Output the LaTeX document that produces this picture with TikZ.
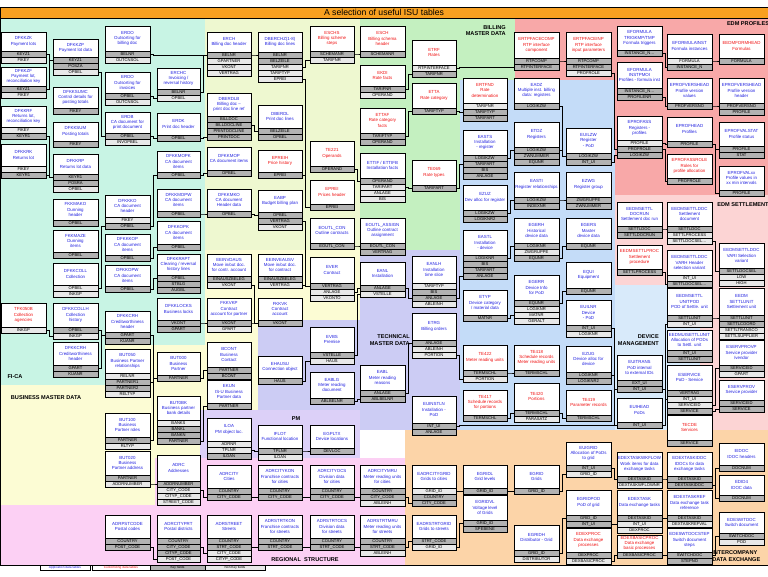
\documentclass[tikz,border=0pt]{standalone}
\usepackage{fontspec}
\setmainfont{Liberation Sans}
\definecolor{cteal}{HTML}{C8F4E4}
\definecolor{cpyg}{HTML}{EEF8D0}
\definecolor{cyel}{HTML}{FCFCD4}
\definecolor{cgreen}{HTML}{C4F0C0}
\definecolor{cred}{HTML}{F8A8A8}
\definecolor{cpink}{HTML}{FCD4D4}
\definecolor{cblue}{HTML}{C4DCF8}
\definecolor{clblue}{HTML}{D8EAFA}
\definecolor{clav}{HTML}{CCCCF4}
\definecolor{cpm}{HTML}{DCD0F8}
\definecolor{cmag}{HTML}{FCD0F4}
\definecolor{corange}{HTML}{FCD4A8}
\definecolor{cbar}{HTML}{F8A020}
\definecolor{tb}{HTML}{2020E0}
\definecolor{tr}{HTML}{F01010}
\tikzset{
 tbox/.style={draw=black,line width=0.6pt,fill=white,align=center,inner sep=0pt,font=\fontsize{3.3}{3.9}\selectfont},
 fldd/.style={draw=black,line width=0.4pt,fill=gray!60,inner sep=0pt,minimum height=4.5pt,font=\fontsize{3.1}{3.3}\selectfont},
 fldl/.style={draw=black,line width=0.4pt,fill=gray!18,inner sep=0pt,minimum height=4.5pt,font=\fontsize{3.1}{3.3}\selectfont},
 conn/.style={draw=black,line width=0.5pt},
 sect/.style={font=\fontsize{4.2}{4.8}\selectfont\bfseries,align=right,inner sep=0pt},
 legend/.style={draw=black,line width=0.4pt,inner sep=0pt,minimum height=4pt,font=\fontsize{2.4}{2.6}\selectfont},
}
\newcommand\Tab[8]{%
 \node[tbox,text=#6,minimum width=#4*0.75pt,minimum height=#5*0.75pt] (#1) at (#2+#4/2,#3+#5/2) {#7};
 \foreach \k/\t [count=\i] in {#8} {\node[fld\k,minimum width=#4*0.75pt] (#1-\i) at (#2+#4/2,#3+#5+\i*6-3) {\t};}
}
\newcommand\cn[2]{\draw[conn] (#1.east) -- ++(3.5,0) |- (#2.west);}
\begin{document}
\begin{tikzpicture}[x=0.75pt,y=-0.75pt]
\useasboundingbox (0,0) rectangle (768,576);
% backgrounds
\fill[white] (0,0) rectangle (768,576);
\fill[cyel] (0,230) rectangle (360,505);
\fill[cteal] (0,18) rectangle (205,345);
\fill[cteal] (0,345) rectangle (105,385);
\fill[cpyg] (205,18) rectangle (360,250);
\fill[cgreen] (360,18) rectangle (515,240);
\fill[cgreen] (360,240) rectangle (460,250);
\fill[clav] (360,250) rectangle (460,430);
\fill[clav] (258,320) rectangle (360,410);
\fill[cblue] (460,80) rectangle (615,430);
\fill[clblue] (615,285) rectangle (700,430);
\fill[cred] (515,18) rectangle (615,80);
\fill[cred] (615,18) rectangle (768,195);
\fill[cpink] (615,195) rectangle (768,285);
\fill[cpink] (700,285) rectangle (768,435);
\fill[cpm] (200,410) rectangle (360,458);
\fill[cmag] (155,458) rectangle (405,505);
\fill[cmag] (0,505) rectangle (405,565);
\fill[corange] (405,430) rectangle (768,565);
\draw[black,line width=0.6pt] (0,18) rectangle (768,565);
% title bar
\node[draw=black,fill=cbar,minimum width=768*0.75pt,minimum height=11*0.75pt,inner sep=0pt,font=\fontsize{6.5}{7}\selectfont] (title) at (384,12.5) {A selection of useful ISU tables};
% column A
\Tab{zk}{1}{32}{45}{19}{tb}{DFKKZK\\Payment lots}{d/KEYZ1,l/FIKEY}
\Tab{zf}{1}{67}{45}{19}{tb}{DFKKZF\\Payment lot,\\reconciliation key}{d/KEYZ1,l/FIKEY}
\Tab{rf}{1}{106}{45}{21}{tb}{DFKKRF\\Returns lot,\\reconciliation key}{l/FIKEY,d/KEYR1}
\Tab{rk}{1}{144}{45}{22}{tb}{DFKKRK\\Returns lot}{l/FIKEY,d/KEYR1}
\Tab{tfk}{1}{303}{45}{24}{tr}{TFK050B\\Collection\\agencies}{l/INKGP}
% column B
\Tab{zp}{53}{39}{45}{18}{tb}{DFKKZP\\Payment lot data}{d/KEYZ1,d/POSZA,l/OPBEL}
\Tab{sumc}{53}{87}{45}{21}{tb}{DFKKSUMC\\Control details for\\posting totals}{d/FIKEY}
\Tab{sum}{53}{122}{45}{19}{tb}{DFKKSUM\\Posting totals}{d/FIKEY}
\Tab{rp}{53}{154}{45}{20}{tb}{DFKKRP\\Returns lot data}{d/KEYR1,d/POSRA,l/OPBEL}
\Tab{mako}{53}{199}{45}{21}{tb}{FKKMAKO\\Dunning\\header}{d/OPBEL}
\Tab{maze}{53}{230}{45}{22}{tb}{FKKMAZE\\Dunning\\items}{d/OPBEL}
\Tab{coll}{53}{263}{45}{22}{tb}{DFKKCOLL\\Collection}{l/OPBEL,l/INKGP}
\Tab{collh}{53}{303}{45}{24}{tb}{DFKKCOLLH\\Collection\\history}{d/OPBEL,l/INKGP}
\Tab{crb}{53}{342}{45}{23}{tb}{DFKKCRH\\Creditworthiness\\header}{d/GPART,d/KUANR}
% column C
\Tab{erdo}{105}{26}{45}{25}{tb}{ERDO\\Outsorting for\\billing doc}{d/BELNR,l/OUTCNSOL}
\Tab{erdoi}{105}{72}{45}{21}{tb}{ERDO\\Outsorting for\\invoices}{d/OPBEL,l/OUTCNSOL}
\Tab{erdb}{105}{112}{45}{21}{tb}{ERDB\\CA document for\\print document}{d/OPBEL,l/INVOPBEL}
\Tab{kko}{105}{195}{45}{22}{tb}{DFKKKO\\CA document\\header}{l/FIKEY,d/OPBEL}
\Tab{kkop}{105}{234}{45}{21}{tb}{DFKKKOP\\CA document\\items}{d/OPBEL}
\Tab{opw}{105}{265}{45}{21}{tb}{DFKKOPW\\CA document\\items}{d/OPBEL}
\Tab{crh}{105}{311}{45}{21}{tb}{DFKKCRH\\Creditworthiness\\header}{d/GPART,d/KUANR}
\Tab{b050}{105}{349}{45}{24}{tb}{BUT050\\Business Partner\\relationships}{l/RELNR,d/PARTNER1,d/PARTNER2,l/RELTYP}
\Tab{b100}{105}{413}{45}{24}{tb}{BUT100\\Business\\Partner roles}{d/PARTNER,l/RLTYP}
\Tab{b020}{105}{451}{45}{24}{tb}{BUT020\\Business\\Partner address}{d/PARTNER,l/ADDRNUMBER}
\Tab{apc}{105}{515}{45}{23}{tb}{ADRPSTCODE\\Postal codes}{d/COUNTRY,d/POST\_CODE}
% column D
\Tab{erchc}{157}{68}{43}{21}{tb}{ERCHC\\Invoicing /\\reversal history}{d/BELNR,l/OPBEL}
\Tab{erdk}{157}{113}{43}{22}{tb}{ERDK\\Print doc header}{d/OPBEL}
\Tab{mopk}{157}{151}{43}{21}{tb}{DFKKMOPK\\CA document\\items}{d/OPBEL}
\Tab{mopw}{157}{189}{43}{22}{tb}{DFKKMOPW\\CA document\\items}{d/OPBEL}
\Tab{opk}{157}{221}{43}{23}{tb}{DFKKOPK\\CA document\\items}{d/OPBEL}
\Tab{rapt}{157}{254}{43}{21}{tb}{DFKKRAPT\\Clearing / reversal\\history lines}{d/OPBEL,d/STBLG,d/AUGBL}
\Tab{locks}{157}{298}{43}{22}{tb}{DFKKLOCKS\\Business locks}{d/VKONT,d/GPART}
\Tab{b000}{157}{352}{43}{23}{tb}{BUT000\\Business\\Partner}{d/PARTNER}
\Tab{b0bk}{157}{396}{43}{24}{tb}{BUT0BK\\Business partner\\bank details}{l/BANKS,d/BANKL,d/BANKN,d/PARTNER}
\Tab{adrc}{157}{455}{43}{26}{tb}{ADRC\\Addresses}{d/ADDRNUMBER,l/CITY\_CODE,l/CITYP\_CODE,l/STREET\_CODE}
\Tab{acprt}{157}{515}{43}{23}{tb}{ADRCITYPRT\\Postal districts}{d/COUNTRY,d/CITY\_CODE,d/CITYP\_CODE,l/POST\_CODE}
% column E
\Tab{erch}{207}{32}{44}{20}{tb}{ERCH\\Billing doc header}{d/BELNR,l/GPARTNER,l/VKONT,l/VERTRAG}
\Tab{dbdlb}{207}{93}{44}{23}{tb}{DBERDLB\\Billing doc --\\print doc line ref}{d/BILLDOC,d/BILLDOCLINE,d/PRINTDOCLINE,d/PRINTDOC}
\Tab{kkmop}{207}{147}{44}{23}{tb}{DFKKMOP\\CA document items}{d/OPBEL}
\Tab{kkmko}{207}{189}{44}{22}{tb}{DFKKMKO\\CA document\\Header data}{d/OPBEL}
\Tab{eaus}{207}{254}{44}{22}{tb}{EEINVDAUS\\Move in/out doc.\\for contr. account}{d/EINAUSZBELEG,l/VKONT}
\Tab{vkp}{207}{298}{44}{22}{tb}{FKKVKP\\Contract\\account for partner}{d/VKONT,l/GPART}
\Tab{bcont}{207}{342}{44}{25}{tb}{BCONT\\Business\\Contact}{d/PARTNER,d/BCONT}
\Tab{ekun}{207}{380}{44}{23}{tb}{EKUN\\IS-U Business\\Partner data}{d/PARTNER}
\Tab{iloa}{207}{418}{44}{23}{tb}{ILOA\\PM object loc.}{l/ADRNR,l/TPLNR,d/ILOAN}
\Tab{acity}{207}{465}{44}{23}{tb}{ADRCITY\\Cities}{d/COUNTRY,d/CITY\_CODE}
\Tab{astr}{207}{515}{44}{23}{tb}{ADRSTREET\\Streets}{d/COUNTRY,d/STRT\_CODE,l/CITY\_CODE,l/CITYP\_CODE}
% column F
\Tab{erchz}{258}{32}{44}{20}{tb}{DBERCHZ(1-8)\\Billing doc lines}{d/BELNR,d/BELZEILE,l/TARIFNR,l/TARIFTYP,l/EPREI}
\Tab{dbdl}{258}{105}{44}{23}{tb}{DBERDL\\Print doc lines}{d/BELZEILE,d/OPBEL}
\Tab{epreih}{258}{150}{44}{22}{tr}{EPREIH\\Price history}{d/EPREI}
\Tab{eabp}{258}{190}{44}{22}{tb}{EABP\\Budget billing plan}{d/OPBEL,d/VERTRAG,l/VKONT}
\Tab{eausv}{258}{254}{44}{22}{tb}{EEINVEAUSV\\Move in/out doc.\\for contract}{d/EINAUSZBELEG,l/VERTRAG}
\Tab{vk}{258}{298}{44}{22}{tb}{FKKVK\\Contract\\account}{d/VKONT}
\Tab{ehau}{258}{356}{44}{22}{tb}{EHAUSU\\Connection object}{d/HAUS}
\Tab{iflot}{258}{425}{44}{23}{tb}{IFLOT\\Functional location}{d/TPLNR,l/ILOAN}
\Tab{acik}{258}{465}{44}{23}{tb}{ADRCITYKON\\Franchise contracts\\for cities}{d/COUNTRY,d/CITY\_CODE}
\Tab{astk}{258}{515}{44}{23}{tb}{ADRSTRTKON\\Franchise contracts\\for streets}{d/COUNTRY,d/STRT\_CODE}
% column G
\Tab{eschs}{310}{26}{44}{25}{tr}{ESCHS\\Billing scheme\\steps}{d/SCHEMANR,l/TARIFNR}
\Tab{te221}{310}{141}{44}{25}{tr}{TE221\\Operands}{d/OPERAND}
\Tab{eprei}{310}{180}{44}{24}{tr}{EPREI\\Prices header}{d/EPREI}
\Tab{eocon}{310}{218}{44}{25}{tb}{EOUTL\_CON\\Outline contracts}{d/EOUTL\_CON}
\Tab{ever}{310}{257}{44}{26}{tb}{EVER\\Contract}{d/VERTRAG,l/ANLAGE,l/VKONTO}
\Tab{evbs}{310}{327}{44}{25}{tb}{EVBS\\Premise}{d/VSTELLE,l/HAUS}
\Tab{eablg}{310}{372}{44}{26}{tb}{EABLG\\Meter reading\\document}{d/ABLBELNR}
\Tab{egpl}{310}{425}{44}{23}{tb}{EGPLTX\\Device locations}{d/DEVLOC}
\Tab{acio}{310}{465}{44}{23}{tb}{ADRCITYOCS\\Division data\\for cities}{d/COUNTRY,d/CITY\_CODE}
\Tab{asto}{310}{515}{44}{23}{tb}{ADRSTRTOCS\\Division data\\for streets}{d/COUNTRY,d/STRT\_CODE}
% column H
\Tab{esch}{360}{26}{45}{25}{tr}{ESCH\\Billing schema\\header}{d/SCHEMANR}
\Tab{ekdi}{360}{65}{45}{21}{tr}{EKDI\\Rate facts}{d/TARIFNR,l/OPERAND}
\Tab{ettaf}{360}{108}{45}{25}{tr}{ETTAF\\Rate category\\facts}{d/TARIFTYP,d/OPERAND}
\Tab{ettif}{360}{153}{45}{25}{tb}{ETTIF / ETTIFB\\Installation facts}{d/OPERAND,l/TARIFART,l/ANLAGE,l/BIS}
\Tab{eoas}{360}{218}{45}{25}{tb}{EOUTL\_ASSIGN\\Outline contract\\assignment}{d/EOUTL\_CON,d/VERTRAG}
\Tab{eanl}{360}{262}{45}{23}{tb}{EANL\\Installation}{d/ANLAGE,l/VSTELLE}
\Tab{eabl}{360}{365}{45}{25}{tb}{EABL\\Meter reading\\reasons}{d/ANLAGE,d/ABLBELNR}
\Tab{acim}{360}{465}{45}{23}{tb}{ADRCITYMRU\\Meter reading units\\for cities}{d/COUNTRY,d/CITY\_CODE,l/ABLEINH}
\Tab{astm}{360}{515}{45}{23}{tb}{ADRSTRTMRU\\Meter reading units\\for streets}{d/COUNTRY,d/STRT\_CODE,l/ABLEINH}
% column I
\Tab{etrf}{412}{40}{44}{25}{tr}{ETRF\\Rates}{l/RTPINTERFACE,d/TARIFNR}
\Tab{etta}{412}{83}{44}{25}{tr}{ETTA\\Rate category}{d/TARIFTYP}
\Tab{te069}{412}{160}{44}{25}{tr}{TE069\\Rate types}{d/TARIFART}
\Tab{eanlh}{412}{256}{44}{27}{tb}{EANLH\\Installation\\time slice}{l/TARIFTYP,d/BIS,d/ANLAGE,l/ABLEINH}
\Tab{etrg}{412}{313}{44}{27}{tb}{ETRG\\Billing orders}{d/ANLAGE,l/ABLEINH,l/PORTION}
\Tab{euin}{412}{396}{44}{27}{tb}{EUINSTLN\\Installation -\\PoD}{d/INT\_UI,d/ANLAGE}
\Tab{eacg}{412}{465}{44}{23}{tb}{EADRCITYGRID\\Grids to cities}{l/GRID\_ID,d/COUNTRY,d/CITY\_CODE}
\Tab{easg}{412}{515}{44}{23}{tb}{EADRSTRTGRID\\Grids to streets}{d/STRT\_CODE,l/GRID\_ID}
% column J
\Tab{ertfnd}{463}{78}{44}{25}{tr}{ERTFND\\Rate\\determination}{l/TARIFNR,d/TARIFTYP,d/TARIFART}
\Tab{easts}{463}{130}{44}{25}{tb}{EASTS\\Installation\\- register}{d/LOGIKZW,d/TARIFART,d/BIS,d/ANLAGE}
\Tab{ezuz}{463}{185}{44}{25}{tb}{EZUZ\\Dev alloc for register}{d/LOGIKZW,d/LOGIKNR2}
\Tab{eastl}{463}{230}{44}{25}{tb}{EASTL\\Installation\\- device}{d/LOGIKNR,d/BIS,d/TARIFART,d/ANLAGE}
\Tab{etyp}{463}{290}{44}{25}{tb}{ETYP\\Device category\\/ material data}{d/MATNR}
\Tab{te422}{463}{345}{44}{25}{tr}{TE422\\Meter reading units}{d/TERMSCHL,l/PORTION}
\Tab{te417}{463}{390}{44}{25}{tr}{TE417\\Schedule records\\for portions}{d/TERMSCHL}
\Tab{egridl}{463}{465}{44}{23}{tb}{EGRIDL\\Grid levels}{d/GRID\_ID}
\Tab{egridvl}{463}{495}{44}{25}{tb}{EGRIDVL\\Voltage level\\of Grids}{d/GRID\_ID,d/SPEBENE}
% column K
\Tab{rtpc}{514}{32}{45}{26}{tr}{ERTPFACECOMP\\RTP interface\\component}{d/RTPCOMP,d/RTPINTERFACE}
\Tab{eadz}{514}{78}{45}{25}{tb}{EADZ\\Multiple inst. billing\\data: registers}{d/LOGIKZW}
\Tab{etdz}{514}{122}{45}{25}{tb}{ETDZ\\Registers}{d/LOGIKZW,d/ZWNUMMER,d/EQUNR}
\Tab{easti}{514}{172}{45}{25}{tb}{EASTI\\Register relationships}{d/LOGIKZW,d/INDEXNR}
\Tab{egerh}{514}{218}{45}{25}{tb}{EGERH\\Historical\\device data}{d/LOGIKNR,l/ZWGRUPPE,d/EQUNR}
\Tab{egerr}{514}{275}{45}{25}{tb}{EGERR\\Device Info\\for PoD}{d/EQUNR,l/LOGIKNR,l/MATNR,l/GERALT}
\Tab{te418}{514}{345}{45}{25}{tr}{TE418\\Schedule records\\Meter reading units}{d/TERMSCHL}
\Tab{te420}{514}{383}{45}{27}{tr}{TE420\\Portions}{d/TERMSCHL,l/PARASATZ}
\Tab{egrid}{514}{465}{45}{23}{tb}{EGRID\\Grids}{d/GRID\_ID}
\Tab{egridh}{514}{525}{45}{25}{tb}{EGRIDH\\Distributor - Grid}{d/GRID\_ID,l/DISTRIBUTOR}
% column L
\Tab{rtpi}{566}{32}{45}{26}{tr}{ERTPFACEINP\\RTP interface\\input parameters}{d/RTPCOMP,d/RTPINTERFACE,l/PROFROLE}
\Tab{euilzw}{566}{128}{45}{25}{tb}{EUILZW\\Register\\- PoD}{d/LOGIKZW,d/INT\_UI}
\Tab{ezwg}{566}{172}{45}{25}{tb}{EZWG\\Register group}{d/ZWGRUPPE,d/ZWNUMMER}
\Tab{egers}{566}{218}{45}{25}{tb}{EGERS\\Master\\device data}{d/EQUNR}
\Tab{equi}{566}{262}{45}{26}{tb}{EQUI\\Equipment}{d/EQUNR}
\Tab{euilnr}{566}{300}{45}{25}{tb}{EUILNR\\Device\\- PoD}{d/INT\_UI,l/LOGIKNR}
\Tab{ezug}{566}{346}{45}{26}{tb}{EZUG\\Device alloc for\\device}{d/LOGIKNR,d/LOGIKNR2}
\Tab{te419}{566}{390}{45}{25}{tr}{TE419\\Parameter records}{d/TERMSCHL}
\Tab{euigrid}{566}{442}{45}{23}{tb}{EUIGRID\\Allocation of PoDs\\to grid}{d/INT\_UI,l/GRID\_ID}
\Tab{egpod}{566}{490}{45}{25}{tb}{EGRIDPOD\\PoD of grid}{d/GRID\_ID,d/INT\_UI}
\Tab{edexp}{566}{528}{45}{24}{tr}{EDEXPROC\\Data exchange\\processes}{d/DEXPROC,l/DEXBASICPROC}
% column M
\Tab{eftrig}{617}{26}{45}{24}{tb}{EFORMULA\\TRIGKMP/TMP\\Formula triggers}{d/INSTANCE\_N{\ldots}}
\Tab{efinst}{617}{62}{45}{26}{tb}{EFORMULA\\INSTPMOI\\Profiles - formula inst}{d/INSTANCE\_N{\ldots},d/PROFILENR}
\Tab{epass}{617}{116}{45}{24}{tb}{EPROFASS\\Registers -\\profiles}{l/PROFILE,d/PROFROLE,d/LOGIKZW}
\Tab{esdr}{617}{202}{45}{24}{tb}{EEDMSETTL\\DOCRUN\\Settlement doc run}{d/SETTLDOC,d/SETTLDOCRUN}
\Tab{esproc}{617}{245}{45}{24}{tr}{EEDMSETTLPROC\\Settlement\\procedure}{d/SETTLPROCESS}
\Tab{euitr}{617}{355}{45}{25}{tb}{EUITRANS\\PoD internal\\to external IDs}{d/EXT\_UI,d/INT\_UI}
\Tab{euih}{617}{398}{45}{24}{tb}{EUIHEAD\\PoDs}{d/INT\_UI}
\Tab{edtw}{617}{452}{45}{24}{tb}{EDEXTASKWKFLOW\\Work items for data\\exchange tasks}{d/DEXTASKID,l/DEXTASKWFLOWNR}
\Tab{edt}{617}{490}{45}{25}{tb}{EDEXTASK\\Data exchange tasks}{d/DEXTASKID,l/INT\_UI,l/DEXPROC}
\Tab{edbp}{617}{535}{45}{17}{tr}{EDEXBASICPROC\\Data exchange\\basic processes}{d/DEXBASICPROC}
% column N
\Tab{efi}{667}{34}{45}{24}{tb}{EFORMULAINST\\Formula instances}{l/FORMULA,d/INSTANCE\_N}
\Tab{epvv}{667}{78}{45}{25}{tb}{EPROFVERSHEAD\\Profile version\\values}{d/PROFVERSNO}
\Tab{eph}{667}{117}{45}{24}{tb}{EPROFHEAD\\Profiles}{d/PROFILE}
\Tab{epar}{667}{154}{45}{24}{tr}{EPROFASSROLE\\Roles for\\profile allocation}{d/PROFROLE}
\Tab{esdoc}{667}{202}{45}{24}{tb}{EEDMSETTLDOC\\Settlement\\document}{d/SETTLDOC,l/SETTLPROCESS,l/SETTLDOCSEL{\ldots}}
\Tab{esvh}{667}{250}{45}{25}{tb}{EEDMSETTLDOC\\VARH Header\\selection variant}{l/INT\_UI,d/SETTLDOCSEL{\ldots}}
\Tab{esup}{667}{288}{45}{27}{tb}{EEDMSETTL\\UNITPOD\\POD of Settle. unit}{d/SETTLUNIT,l/INT\_UI}
\Tab{euisu}{667}{330}{45}{20}{tb}{EEDMUISETTLUNIT\\Allocation of PODs\\to Settl. unit}{d/INT\_UI,d/SETTLUNIT}
\Tab{eserv}{667}{365}{45}{25}{tb}{ESERVICE\\PoD - Service}{d/VERTRAG,l/INT\_UI,l/SERVICEID,d/SERVICE}
\Tab{tecde}{667}{415}{45}{25}{tr}{TECDE\\Services}{d/SERVICE}
\Tab{edti}{667}{452}{45}{24}{tb}{EDEXTASKIDOC\\IDOCs for data\\exchange tasks}{d/DEXTASKID,d/DEXTASKIDOC}
\Tab{edtr}{667}{490}{45}{25}{tb}{EDEXTASKREF\\Data exchange task\\reference}{d/DEXTASKID,l/DEXTASKREFVAL}
\Tab{edss}{667}{528}{45}{24}{tb}{EDESWTDOCSTEP\\Switch document\\steps}{d/SWITCHDOC,d/STEPNO}
% column O
\Tab{efh}{719}{34}{45}{24}{tr}{EEDMFORMHEAD\\Formulas}{d/FORMULA}
\Tab{epvh}{719}{78}{45}{25}{tb}{EPROFVERSHEAD\\Profile version\\header}{d/PROFVERSNO,d/PROFILE}
\Tab{epvs}{719}{122}{45}{24}{tb}{EPROFVALSTAT\\Profile status}{d/PROFILE,d/STAT}
\Tab{epvx}{719}{166}{45}{24}{tb}{EPROFVALxx\\Profile values in\\xx min intervals}{d/PROFILE}
\Tab{esvi}{719}{243}{45}{25}{tb}{EEDMSETTLDOC\\VARI Selection\\variant}{d/SETTLDOCSEL,l/LOW,l/HIGH}
\Tab{esu}{719}{288}{45}{27}{tb}{EEDM\\SETTLUNIT\\Settlement unit}{d/SETTLUNIT,d/SETTLCOORD,l/SETTLTRANSCO,l/SETTLSUPPLIER}
\Tab{espv}{719}{340}{45}{25}{tb}{ESERVPROVP\\Service provider\\/vendor}{d/SERVICEID,l/GPART}
\Tab{esp}{719}{380}{45}{20}{tb}{ESERVPROV\\Service provider}{d/SERVICEID,d/SERVICE}
\Tab{eidoc}{719}{443}{45}{22}{tb}{EIDOC\\IDOC headers}{d/DOCNUM}
\Tab{edid}{719}{475}{45}{20}{tb}{EDID4\\IDOC data}{d/DOCNUM}
\Tab{edsw}{719}{512}{45}{21}{tb}{EDESWTDOC\\Switch document}{d/SWITCHDOC,l/POD}
% connectors
\cn{zk-1}{zp-1}\cn{zf-1}{zp-1}\cn{rf-2}{rp-1}\cn{rk-2}{rp-1}
\cn{tfk-1}{collh-2}\cn{coll-1}{kko-2}\cn{crb-1}{crh-1}\cn{collh-1}{crh-1}
\cn{zp-3}{erdb-1}\cn{erdo-1}{erch-1}\cn{erdoi-1}{erchc-2}\cn{erdb-1}{erdk-1}
\cn{kko-2}{mopk-1}\cn{kkop-1}{opk-1}\cn{opw-1}{rapt-1}\cn{crh-1}{b000-1}
\cn{b050-2}{b000-1}\cn{b100-1}{b000-1}\cn{b020-2}{adrc-1}\cn{apc-2}{acprt-4}
\cn{erchc-1}{erch-1}\cn{erdk-1}{dbdlb-4}\cn{mopk-1}{kkmop-1}\cn{mopw-1}{kkmko-1}
\cn{locks-1}{vkp-1}\cn{b000-1}{bcont-1}\cn{b0bk-4}{ekun-1}\cn{adrc-2}{acity-2}\cn{acprt-2}{astr-3}
\cn{erch-1}{erchz-1}\cn{dbdlb-2}{dbdl-1}\cn{kkmko-1}{eabp-1}\cn{eaus-2}{vk-1}\cn{vkp-1}{vk-1}
\cn{iloa-2}{iflot-1}\cn{acity-2}{acik-2}\cn{astr-2}{astk-2}
\cn{erchz-3}{eschs-2}\cn{erchz-5}{eprei-1}\cn{epreih-1}{eprei-1}\cn{eabp-2}{ever-1}\cn{eausv-2}{ever-1}
\cn{ehau-1}{evbs-2}\cn{iflot-1}{egpl-1}\cn{acik-2}{acio-2}\cn{astk-2}{asto-2}
\cn{eschs-1}{esch-1}\cn{te221-1}{ettif-1}\cn{eocon-1}{eoas-1}\cn{ever-2}{eanl-1}\cn{evbs-1}{eanl-2}
\cn{eablg-1}{eabl-2}\cn{acio-2}{acim-2}\cn{asto-2}{astm-2}
\cn{ekdi-1}{etrf-2}\cn{ettaf-1}{etta-1}\cn{ettif-2}{te069-1}\cn{eanl-1}{eanlh-3}\cn{eabl-1}{etrg-1}
\cn{acim-2}{eacg-3}\cn{astm-2}{easg-1}
\cn{etrf-1}{rtpc-2}\cn{etta-1}{ertfnd-2}\cn{te069-1}{easts-2}\cn{eanlh-3}{eastl-4}\cn{etrg-3}{te422-2}
\cn{euin-1}{euih-1}\cn{eacg-1}{egridl-1}\cn{easg-2}{egridvl-1}
\cn{easts-1}{etdz-1}\cn{ezuz-1}{easti-1}\cn{eastl-1}{egerh-1}\cn{etyp-1}{egerr-3}\cn{te422-1}{te418-1}\cn{te417-1}{te420-1}
\cn{egridl-1}{egrid-1}\cn{rtpc-1}{rtpi-1}\cn{eadz-1}{euilzw-1}\cn{etdz-1}{euilzw-1}\cn{easti-1}{ezwg-1}
\cn{egerh-3}{egers-1}\cn{egerr-1}{equi-1}\cn{egrid-1}{euigrid-2}\cn{egridh-1}{egpod-1}\cn{te420-1}{te419-1}
\cn{rtpi-3}{epass-2}\cn{euilzw-2}{epass-3}\cn{euilnr-1}{euitr-2}\cn{ezug-1}{euih-1}\cn{euigrid-1}{edtw-1}\cn{egpod-2}{edt-2}\cn{edexp-2}{edbp-1}
\cn{eftrig-1}{efi-2}\cn{efinst-2}{epvv-1}\cn{epass-1}{eph-1}\cn{epass-2}{epar-1}\cn{esdr-1}{esdoc-1}\cn{esproc-1}{esvh-2}
\cn{euih-1}{esup-2}\cn{euitr-2}{eserv-2}\cn{edtw-1}{edti-1}\cn{edt-1}{edtr-1}\cn{edbp-1}{edss-1}
\cn{efi-1}{efh-1}\cn{epvv-1}{epvh-1}\cn{eph-1}{epvs-1}\cn{eph-1}{epvx-1}\cn{esdoc-3}{esvi-1}\cn{esup-1}{esu-1}
\cn{eserv-3}{espv-1}\cn{eserv-4}{esp-2}\cn{edti-2}{eidoc-1}\cn{edti-2}{edid-1}\cn{edss-1}{edsw-1}
% section labels
\node[sect,anchor=north east] (s1) at (506,25) {BILLING\\MASTER DATA};
\node[sect] (s2) at (748,24) {EDM PROFILES};
\node[sect] (s3) at (743,205) {EDM SETTLEMENT};
\node[sect,anchor=east] (s4) at (410,340) {TECHNICAL\\MASTER DATA};
\node[sect,anchor=east] (s5) at (659,340) {DEVICE\\MANAGEMENT};
\node[sect] (s6) at (15,377) {FI-CA};
\node[sect] (s7) at (46,398) {BUSINESS MASTER DATA};
\node[sect] (s8) at (296,419) {PM};
\node[sect] (s9) at (305,560) {REGIONAL\ \ STRUCTURE};
\node[sect,align=left,anchor=west] (s10) at (712,556) {INTERCOMPANY\\DATA EXCHANGE};
% legend
\node[legend,text=tb,minimum width=50*0.75pt] (lg1) at (65,568) {Application data tables};
\node[legend,text=tr,minimum width=58*0.75pt] (lg2) at (121,568) {Customizing data tables};
\node[legend,fill=gray!60,minimum width=55*0.75pt] (lg3) at (177.5,568) {Key fields};
\node[legend,fill=gray!18,minimum width=60*0.75pt] (lg4) at (235,568) {Non Key fields};
\end{tikzpicture}
\end{document}
